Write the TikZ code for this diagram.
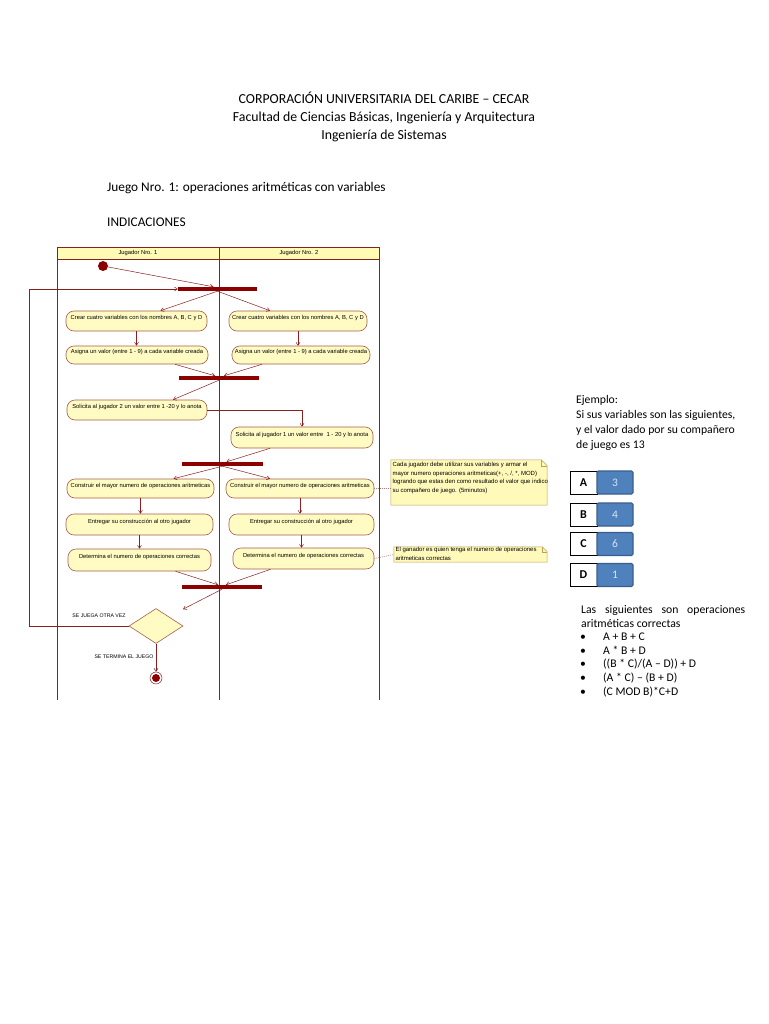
\documentclass[tikz,border=0pt]{standalone}
\usepackage{fontspec}
\setmainfont{Carlito}
\newfontfamily\dfont{Liberation Sans}
\usetikzlibrary{arrows.meta,calc,shapes.geometric}
\definecolor{umlred}{RGB}{139,30,30}
\definecolor{barred}{RGB}{140,0,0}
\definecolor{actfill}{RGB}{255,251,195}
\definecolor{actdraw}{RGB}{165,95,75}
\definecolor{hdrfill}{RGB}{255,250,180}
\definecolor{notefill}{RGB}{255,250,185}
\definecolor{notedraw}{RGB}{190,160,90}
\definecolor{blueval}{RGB}{79,129,189}
\definecolor{bluedraw}{RGB}{58,95,140}
\definecolor{valtext}{RGB}{215,228,245}
\begin{document}
\begin{tikzpicture}[x=1pt,y=-1pt,
  txt/.style={font=\fontsize{11.7}{14}\selectfont, inner sep=0},
  ttl/.style={font=\fontsize{13.8}{16}\selectfont, inner sep=0},
  hd/.style={font=\fontsize{13.3}{16}\selectfont, inner sep=0},
  act/.style 2 args={draw=actdraw, fill=actfill, rounded corners=8pt, line width=0.6pt,
     font=\dfont\fontsize{5.8}{6}\selectfont, text depth=7pt, inner sep=1pt,
     minimum width=#1, minimum height=#2},
  bar/.style={fill=barred, inner sep=0, minimum height=4pt},
  flow/.style={draw=umlred, line width=0.5pt, -{Straight Barb[length=3pt,width=4pt]}},
  lane/.style={draw=umlred, line width=1pt},
  hdr/.style={font=\dfont\fontsize{5.8}{6}\selectfont, inner sep=0},
  lbl/.style={font=\dfont\fontsize{5.2}{6}\selectfont, inner sep=0},
  notebox/.style={inner sep=0},
  notetxt/.style={font=\dfont\fontsize{6}{8.5}\selectfont, inner sep=0, align=left},
  dotline/.style={draw=umlred!60, line width=0.5pt, dash pattern=on 1pt off 1pt},
  letbox/.style={draw=black, line width=0.9pt, fill=white, minimum width=27pt, minimum height=23pt, inner sep=0, font=\fontsize{12}{14}\selectfont\bfseries},
  valbox/.style={draw=bluedraw, line width=1.1pt, fill=blueval, rounded corners=1.5pt, minimum width=36pt, minimum height=23pt, inner sep=0, font=\fontsize{11.5}{14}\selectfont, text=valtext},
]
\useasboundingbox (0,0) rectangle (768,1024);
\fill[white] (0,0) rectangle (768,1024);

% ---------- titles ----------
\node[ttl, anchor=base] (t1) at (384,104) {CORPORACIÓN UNIVERSITARIA DEL CARIBE – CECAR};
\node[ttl, anchor=base] (t2) at (384,122) {Facultad de Ciencias Básicas, Ingeniería y Arquitectura};
\node[ttl, anchor=base] (t3) at (384,140) {Ingeniería de Sistemas};
\node[hd, anchor=base west] (t4) at (107,192) {Juego Nro. 1: operaciones aritméticas con variables};
\node[hd, anchor=base west] (t5) at (107,226.5) {INDICACIONES};

% ---------- swimlanes ----------
\fill[hdrfill] (57,247) rectangle (379,259);
\draw[lane] (57,247) -- (379,247);
\draw[lane] (57,259) -- (379,259);
\draw[lane] (57,247) -- (57,700);
\draw[lane] (219,247) -- (219,700);
\draw[lane] (379,247) -- (379,700);
\node[hdr] (h1) at (138,253) {Jugador Nro. 1};
\node[hdr] (h2) at (299,253) {Jugador Nro. 2};

% ---------- nodes ----------
\node[circle, fill=barred, minimum size=10pt, inner sep=0] (init) at (103,266) {};
\node[bar, minimum width=79pt] (bar1) at (217.5,289) {};
\node[act={141pt}{20pt}] (c1) at (136.5,321) {Crear cuatro variables con los nombres A, B, C y D};
\node[act={138pt}{20pt}] (c2) at (298,321) {Crear cuatro variables con los nombres A, B, C y D};
\node[act={142pt}{18pt}] (a1) at (137,355) {Asigna un valor (entre 1 - 9) a cada variable creada};
\node[act={138pt}{18pt}] (a2) at (301,355) {Asigna un valor (entre 1 - 9) a cada variable creada};
\node[bar, minimum width=80pt] (bar2) at (219,378) {};
\node[act={140pt}{20pt}] (s1) at (137,410) {Solicita al jugador 2 un valor entre 1 -20 y lo anota};
\node[act={142pt}{21pt}] (s2) at (302,437.5) {Solicita al jugador 1 un valor entre \ 1 - 20 y lo anota};
\node[bar, minimum width=81pt] (bar3) at (222.5,464) {};
\node[act={147pt}{19pt}] (k1) at (140.5,488.5) {Construir el mayor numero de operaciones aritmeticas};
\node[act={148pt}{19pt}] (k2) at (300,488.5) {Construir el mayor numero de operaciones aritmeticas};
\node[act={147pt}{21pt}] (e1) at (139.5,524.5) {Entregar su construcción al otro jugador};
\node[act={145pt}{21pt}] (e2) at (301.5,524.5) {Entregar su construcción al otro jugador};
\node[act={143pt}{22pt}] (d1) at (139.5,560) {Determina el numero de operaciones correctas};
\node[act={141pt}{21pt}] (d2) at (303.5,558.5) {Determina el numero de operaciones correctas};
\node[bar, minimum width=80pt] (bar4) at (222,587) {};
\node[diamond, draw=actdraw, fill=actfill, line width=0.6pt, minimum width=54pt, minimum height=35pt, inner sep=0] (dia) at (156,626) {};
\node[circle, draw=umlred, line width=0.5pt, fill=white, minimum size=12pt, inner sep=0] (fin) at (156,678) {};
\node[circle, fill=barred, minimum size=8pt, inner sep=0] (finin) at (fin.center) {};
\coordinate (loopc) at (29,626);

\node[lbl] (lb1) at (99,616) {SE JUEGA OTRA VEZ};
\node[lbl] (lb2) at (124,657) {SE TERMINA EL JUEGO};

% ---------- connectors ----------
\draw[flow] (init) -- ($(bar1.north)+(-4,0)$);
\draw[flow] (dia.west) -- (loopc) |- (bar1.west);
\draw[flow] (bar1.south) -- ($(c1.north)+(24,0)$);
\draw[flow] (bar1.south) -- ($(c2.north)+(-28,0)$);
\draw[flow] (c1.south) -- (c1.south |- a1.north);
\draw[flow] (c2.south) -- (c2.south |- a2.north);
\draw[flow] ($(a1.south)+(38,0)$) -- ($(bar2.north)+(-4,0)$);
\draw[flow] ($(a2.south)+(-39,0)$) -- ($(bar2.north)+(5,0)$);
\draw[flow] (bar2.south) -- ($(s1.north)+(36,0)$);
\draw[flow] (s1.east) -| (s2.north);
\draw[flow] ($(s2.south)+(-32,0)$) -- ($(bar3.north)+(4,0)$);
\draw[flow] (bar3.south) -- ($(k1.north)+(33,0)$);
\draw[flow] (bar3.south) -- ($(k2.north)+(-30,0)$);
\draw[flow] (k1.south) -- (k1.south |- e1.north);
\draw[flow] (k2.south) -- (k2.south |- e2.north);
\draw[flow] (e1.south) -- (e1.south |- d1.north);
\draw[flow] (e2.south) -- (e2.south |- d2.north);
\draw[flow] ($(d1.south)+(36,0)$) -- ($(bar4.north)+(-4,0)$);
\draw[flow] ($(d2.south)+(-33,0)$) -- ($(bar4.north)+(4,0)$);
\draw[flow] (bar4.south) -- ($(dia.north)+(27,1)$);
\draw[flow] (dia.south) -- (fin.north);

% ---------- notes ----------
\node[notebox, minimum width=156pt, minimum height=45pt] (n1) at (469,482.5) {};
\draw[draw=notedraw, fill=notefill, line width=0.5pt] (n1.north west) -- ($(n1.north east)+(-6,0)$) -- ($(n1.north east)+(0,6)$) -- (n1.south east) -- (n1.south west) -- cycle;
\draw[draw=notedraw, line width=0.5pt] ($(n1.north east)+(-6,0)$) -- ($(n1.north east)+(-6,6)$) -- ($(n1.north east)+(0,6)$);
\node[notetxt, anchor=north west] (n1t) at ($(n1.north west)+(1.5,2.5)$) {Cada jugador debe utilizar sus variables y armar el\\mayor numero operaciones aritmeticas(+, -, /, *, MOD)\\ logrando que estas den como resultado el valor que indico\\ su compañero de juego. (5minutos)};

\node[notebox, minimum width=153pt, minimum height=15pt] (n2) at (470.5,554.5) {};
\draw[draw=notedraw, fill=notefill, line width=0.5pt] (n2.north west) -- ($(n2.north east)+(-5,0)$) -- ($(n2.north east)+(0,5)$) -- (n2.south east) -- (n2.south west) -- cycle;
\draw[draw=notedraw, line width=0.5pt] ($(n2.north east)+(-5,0)$) -- ($(n2.north east)+(-5,5)$) -- ($(n2.north east)+(0,5)$);
\node[notetxt, anchor=north west] (n2t) at ($(n2.north west)+(1.5,0.5)$) {El ganador es quien tenga el numero de operaciones\\aritmeticas correctas};

\draw[dotline] (k2.east) -- (k2.east -| n1.west);
\draw[dotline] (d2.east) -- (n2.west);

% ---------- right column ----------
\node[txt, anchor=base west] (r1) at (576,403) {Ejemplo:};
\node[txt, anchor=base west] (r2) at (576,418) {Si sus variables son las siguientes,};
\node[txt, anchor=base west] (r3) at (576,433) {y el valor dado por su compañero};
\node[txt, anchor=base west] (r4) at (576,448) {de juego es 13};

\node[letbox] (la) at (583.5,482.5) {A};
\node[valbox] (va) at (615,482.5) {3};
\node[letbox] (lbb) at (583.5,514.5) {B};
\node[valbox] (vb) at (615,514.5) {4};
\node[letbox] (lc) at (583.5,544) {C};
\node[valbox] (vc) at (615,544) {6};
\node[letbox] (ld) at (583.5,575) {D};
\node[valbox] (vd) at (615,575) {1};

\node[txt, anchor=base west] (o1) at (581,613) {\hbox to 164pt{Las\hfill siguientes\hfill son\hfill operaciones}};
\node[txt, anchor=base west] (o2) at (581,627) {aritméticas correctas};
\foreach \t [count=\i] in {A + B + C, A * B + D, ((B * C)/(A – D)) + D, (A * C) – (B + D), (C MOD B)*C+D} {
  \node[txt, anchor=base west] (bu\i) at (580,627+13.6*\i) {\makebox[23pt][l]{•}\t};
}
\end{tikzpicture}
\end{document}
